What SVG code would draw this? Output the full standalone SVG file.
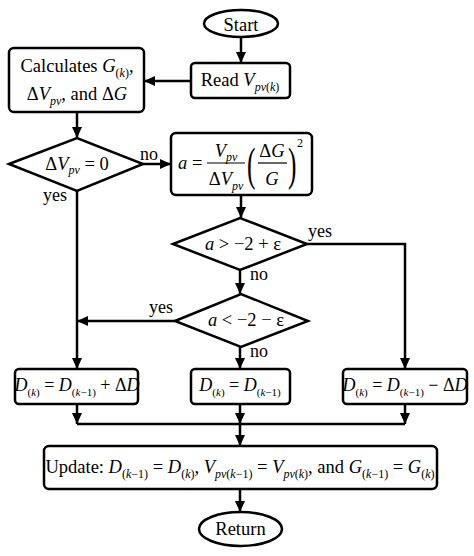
<svg xmlns="http://www.w3.org/2000/svg" width="474" height="556" viewBox="0 0 474 556">
<style>
  .box{fill:#fff;stroke:#000;stroke-width:2.5}
  .ln{fill:none;stroke:#000;stroke-width:2.5}
  .ar{fill:none;stroke:#000;stroke-width:2.5;marker-end:url(#ah)}
  text{font-family:"Liberation Serif","Times New Roman",serif;font-size:18.5px;fill:#000}
  .i{font-style:italic}
  .s{font-size:12px}
  .d{font-size:18px}
  .d .s{font-size:11px}
  .lbl{font-size:18px}
  .par{font-size:46px}
</style>
<defs>
  <marker id="ah" markerUnits="userSpaceOnUse" markerWidth="11" markerHeight="10" refX="11" refY="5" orient="auto">
    <path d="M0,0 L11,5 L0,10 z" fill="#000"/>
  </marker>
</defs>
<rect width="474" height="556" fill="#fff"/>
<g id="connectors">
  <path class="ar" d="M241,37 V63"/>
  <path class="ar" d="M191,81 H144"/>
  <path class="ar" d="M77,112 V138"/>
  <path class="ar" d="M143,164 H171"/>
  <path class="ar" d="M77,191 V369"/>
  <path class="ar" d="M241,195 V218"/>
  <path class="ar" d="M307,244 H405 V369"/>
  <path class="ar" d="M240,270 V294"/>
  <path class="ar" d="M175,321 H77"/>
  <path class="ar" d="M240,347 V369"/>
  <path class="ar" d="M77,404 V424"/>
  <path class="ar" d="M240,404 V424"/>
  <path class="ar" d="M405,404 V424"/>
  <path class="ln" d="M77,424 H405"/>
  <path class="ar" d="M240,424 V446"/>
  <path class="ar" d="M240,489 V512"/>
  <text class="lbl" x="140" y="160">no</text>
  <text class="lbl" x="43" y="201">yes</text>
  <text class="lbl" x="308" y="237">yes</text>
  <text class="lbl" x="250" y="280">no</text>
  <text class="lbl" x="149" y="313">yes</text>
  <text class="lbl" x="250" y="357">no</text>
</g>
<g id="start">
  <ellipse class="box" cx="241" cy="23.5" rx="37" ry="13.5"/>
  <text x="241" y="31" text-anchor="middle">Start</text>
</g>
<g id="read">
  <rect class="box" x="191" y="63" width="99" height="35" rx="4"/>
  <text x="240" y="86" text-anchor="middle">Read <tspan class="i">V</tspan><tspan class="s" dy="5"><tspan class="i">pv</tspan>(<tspan class="i">k</tspan>)</tspan></text>
</g>
<g id="calc">
  <rect class="box" x="9" y="48" width="135" height="64" rx="5"/>
  <text x="77" y="72" text-anchor="middle">Calculates <tspan class="i">G</tspan><tspan class="s" dy="5">(<tspan class="i">k</tspan>)</tspan><tspan dy="-5">,</tspan></text>
  <text x="77" y="100" text-anchor="middle">Δ<tspan class="i">V</tspan><tspan class="s i" dy="5">pv</tspan><tspan dy="-5">, and Δ</tspan><tspan class="i">G</tspan></text>
</g>
<g id="dec1">
  <polygon class="box" points="9,164 77,138 143,164 77,191"/>
  <text x="77" y="170" text-anchor="middle">Δ<tspan class="i">V</tspan><tspan class="s i" dy="4">pv</tspan><tspan dy="-4"> = 0</tspan></text>
</g>
<g id="formula">
  <rect class="box" x="171" y="133" width="141" height="62" rx="5"/>
  <text x="178" y="169"><tspan class="i">a</tspan> =</text>
  <text x="226" y="157" text-anchor="middle"><tspan class="i">V</tspan><tspan class="s i" dy="4">pv</tspan></text>
  <line x1="207" y1="163" x2="245" y2="163" stroke="#000" stroke-width="1.2"/>
  <text x="226" y="185" text-anchor="middle">Δ<tspan class="i">V</tspan><tspan class="s i" dy="5">pv</tspan></text>
  <text class="par" x="0" y="0" transform="translate(247,180) scale(0.55,1)">(</text>
  <text x="272" y="157" text-anchor="middle">Δ<tspan class="i">G</tspan></text>
  <line x1="258" y1="163" x2="287" y2="163" stroke="#000" stroke-width="1.2"/>
  <text x="272" y="185" text-anchor="middle" class="i">G</text>
  <text class="par" x="0" y="0" transform="translate(288,180) scale(0.55,1)">)</text>
  <text x="297" y="147" class="s">2</text>
</g>
<g id="dec2">
  <polygon class="box" points="173,244 240,218 307,244 240,270"/>
  <text x="243" y="250" text-anchor="middle"><tspan class="i">a</tspan> &gt; −2 + ε</text>
</g>
<g id="dec3">
  <polygon class="box" points="175,321 241,294 308,321 241,347"/>
  <text x="246" y="326" text-anchor="middle"><tspan class="i">a</tspan> &lt; −2 − ε</text>
</g>
<g id="inc">
  <rect class="box" x="15" y="369" width="123" height="35" rx="4"/>
  <text class="d" x="77" y="391" text-anchor="middle"><tspan class="i">D</tspan><tspan class="s" dy="5">(<tspan class="i">k</tspan>)</tspan><tspan dy="-5"> = </tspan><tspan class="i">D</tspan><tspan class="s" dy="5">(<tspan class="i">k</tspan>−1)</tspan><tspan dy="-5"> + Δ</tspan><tspan class="i">D</tspan></text>
</g>
<g id="keep">
  <rect class="box" x="191" y="369" width="99" height="35" rx="4"/>
  <text class="d" x="240" y="391" text-anchor="middle"><tspan class="i">D</tspan><tspan class="s" dy="5">(<tspan class="i">k</tspan>)</tspan><tspan dy="-5"> = </tspan><tspan class="i">D</tspan><tspan class="s" dy="5">(<tspan class="i">k</tspan>−1)</tspan></text>
</g>
<g id="dec">
  <rect class="box" x="343" y="369" width="124" height="35" rx="4"/>
  <text class="d" x="405" y="391" text-anchor="middle"><tspan class="i">D</tspan><tspan class="s" dy="5">(<tspan class="i">k</tspan>)</tspan><tspan dy="-5"> = </tspan><tspan class="i">D</tspan><tspan class="s" dy="5">(<tspan class="i">k</tspan>−1)</tspan><tspan dy="-5"> − Δ</tspan><tspan class="i">D</tspan></text>
</g>
<g id="update">
  <rect class="box" x="44" y="446" width="393" height="43" rx="5"/>
  <text x="240" y="473" text-anchor="middle">Update:  <tspan class="i">D</tspan><tspan class="s" dy="5">(<tspan class="i">k</tspan>−1)</tspan><tspan dy="-5"> = </tspan><tspan class="i">D</tspan><tspan class="s" dy="5">(<tspan class="i">k</tspan>)</tspan><tspan dy="-5">,  </tspan><tspan class="i">V</tspan><tspan class="s" dy="5"><tspan class="i">pv</tspan>(<tspan class="i">k</tspan>−1)</tspan><tspan dy="-5"> = </tspan><tspan class="i">V</tspan><tspan class="s" dy="5"><tspan class="i">pv</tspan>(<tspan class="i">k</tspan>)</tspan><tspan dy="-5">, and </tspan><tspan class="i">G</tspan><tspan class="s" dy="5">(<tspan class="i">k</tspan>−1)</tspan><tspan dy="-5"> = </tspan><tspan class="i">G</tspan><tspan class="s" dy="5">(<tspan class="i">k</tspan>)</tspan></text>
</g>
<g id="return">
  <ellipse class="box" cx="240.5" cy="529" rx="41.5" ry="17"/>
  <text x="240.5" y="535" text-anchor="middle">Return</text>
</g>
</svg>
